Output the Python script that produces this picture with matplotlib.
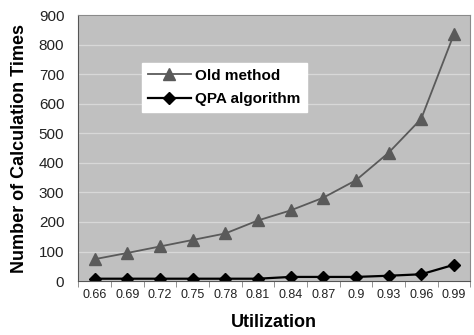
import numpy as np
import matplotlib.pyplot as plt

# utilization levels and number of calculation times
utilization = ['0.66', '0.69', '0.72', '0.75', '0.78', '0.81',
               '0.84', '0.87', '0.9', '0.93', '0.96', '0.99']
old_method = [74, 95, 117, 139, 161, 205, 239, 282, 341, 434, 549, 835]
qpa_algorithm = [8, 8, 8, 8, 8, 8, 14, 14, 14, 18, 23, 55]

plt.rcParams['font.family'] = 'Liberation Sans'

fig = plt.figure(figsize=(4.74, 3.35), dpi=100)
ax = fig.add_axes([0.165, 0.161, 0.827, 0.794])
ax.set_facecolor('#c0c0c0')

x = np.arange(len(utilization))
ax.plot(x, old_method, color='#5a5a5a', lw=1.3, marker='^', ms=8,
        markerfacecolor='#5a5a5a', markeredgecolor='#5a5a5a', label='Old method')
ax.plot(x, qpa_algorithm, color='black', lw=1.6, marker='D', ms=6,
        markerfacecolor='black', label='QPA algorithm')

ax.set_xlim(-0.5, len(utilization) - 0.5)
ax.set_ylim(0, 900)
ax.set_yticks(range(0, 901, 100))
ax.set_xticks(x)
ax.set_xticklabels(utilization)
ax.set_xticks(np.arange(-0.5, len(utilization), 1), minor=True)
ax.tick_params(axis='x', which='major', length=0, labelsize=9, pad=6, colors='#222222')
ax.tick_params(axis='x', which='minor', length=4, color='#808080')
ax.tick_params(axis='y', length=0, labelsize=11, pad=10, colors='#222222')
ax.grid(axis='y', color='#d8d8d8', lw=0.9)
ax.set_axisbelow(True)
for side in ['top', 'right']:
    ax.spines[side].set_color('#8a8a8a')
for side in ['left', 'bottom']:
    ax.spines[side].set_color('#555555')

ax.set_xlabel('Utilization', fontsize=13, fontweight='bold', labelpad=9)
ax.set_ylabel('Number of Calculation Times', fontsize=13, fontweight='bold', labelpad=8)

leg = ax.legend(loc='upper left', bbox_to_anchor=(0.143, 0.85), frameon=True,
                fancybox=False, framealpha=1, edgecolor='white',
                prop={'weight': 'bold', 'size': 11}, handlelength=2.8,
                borderpad=0.4, labelspacing=0.6, handletextpad=0.3)

plt.savefig('out.png', dpi=100)
